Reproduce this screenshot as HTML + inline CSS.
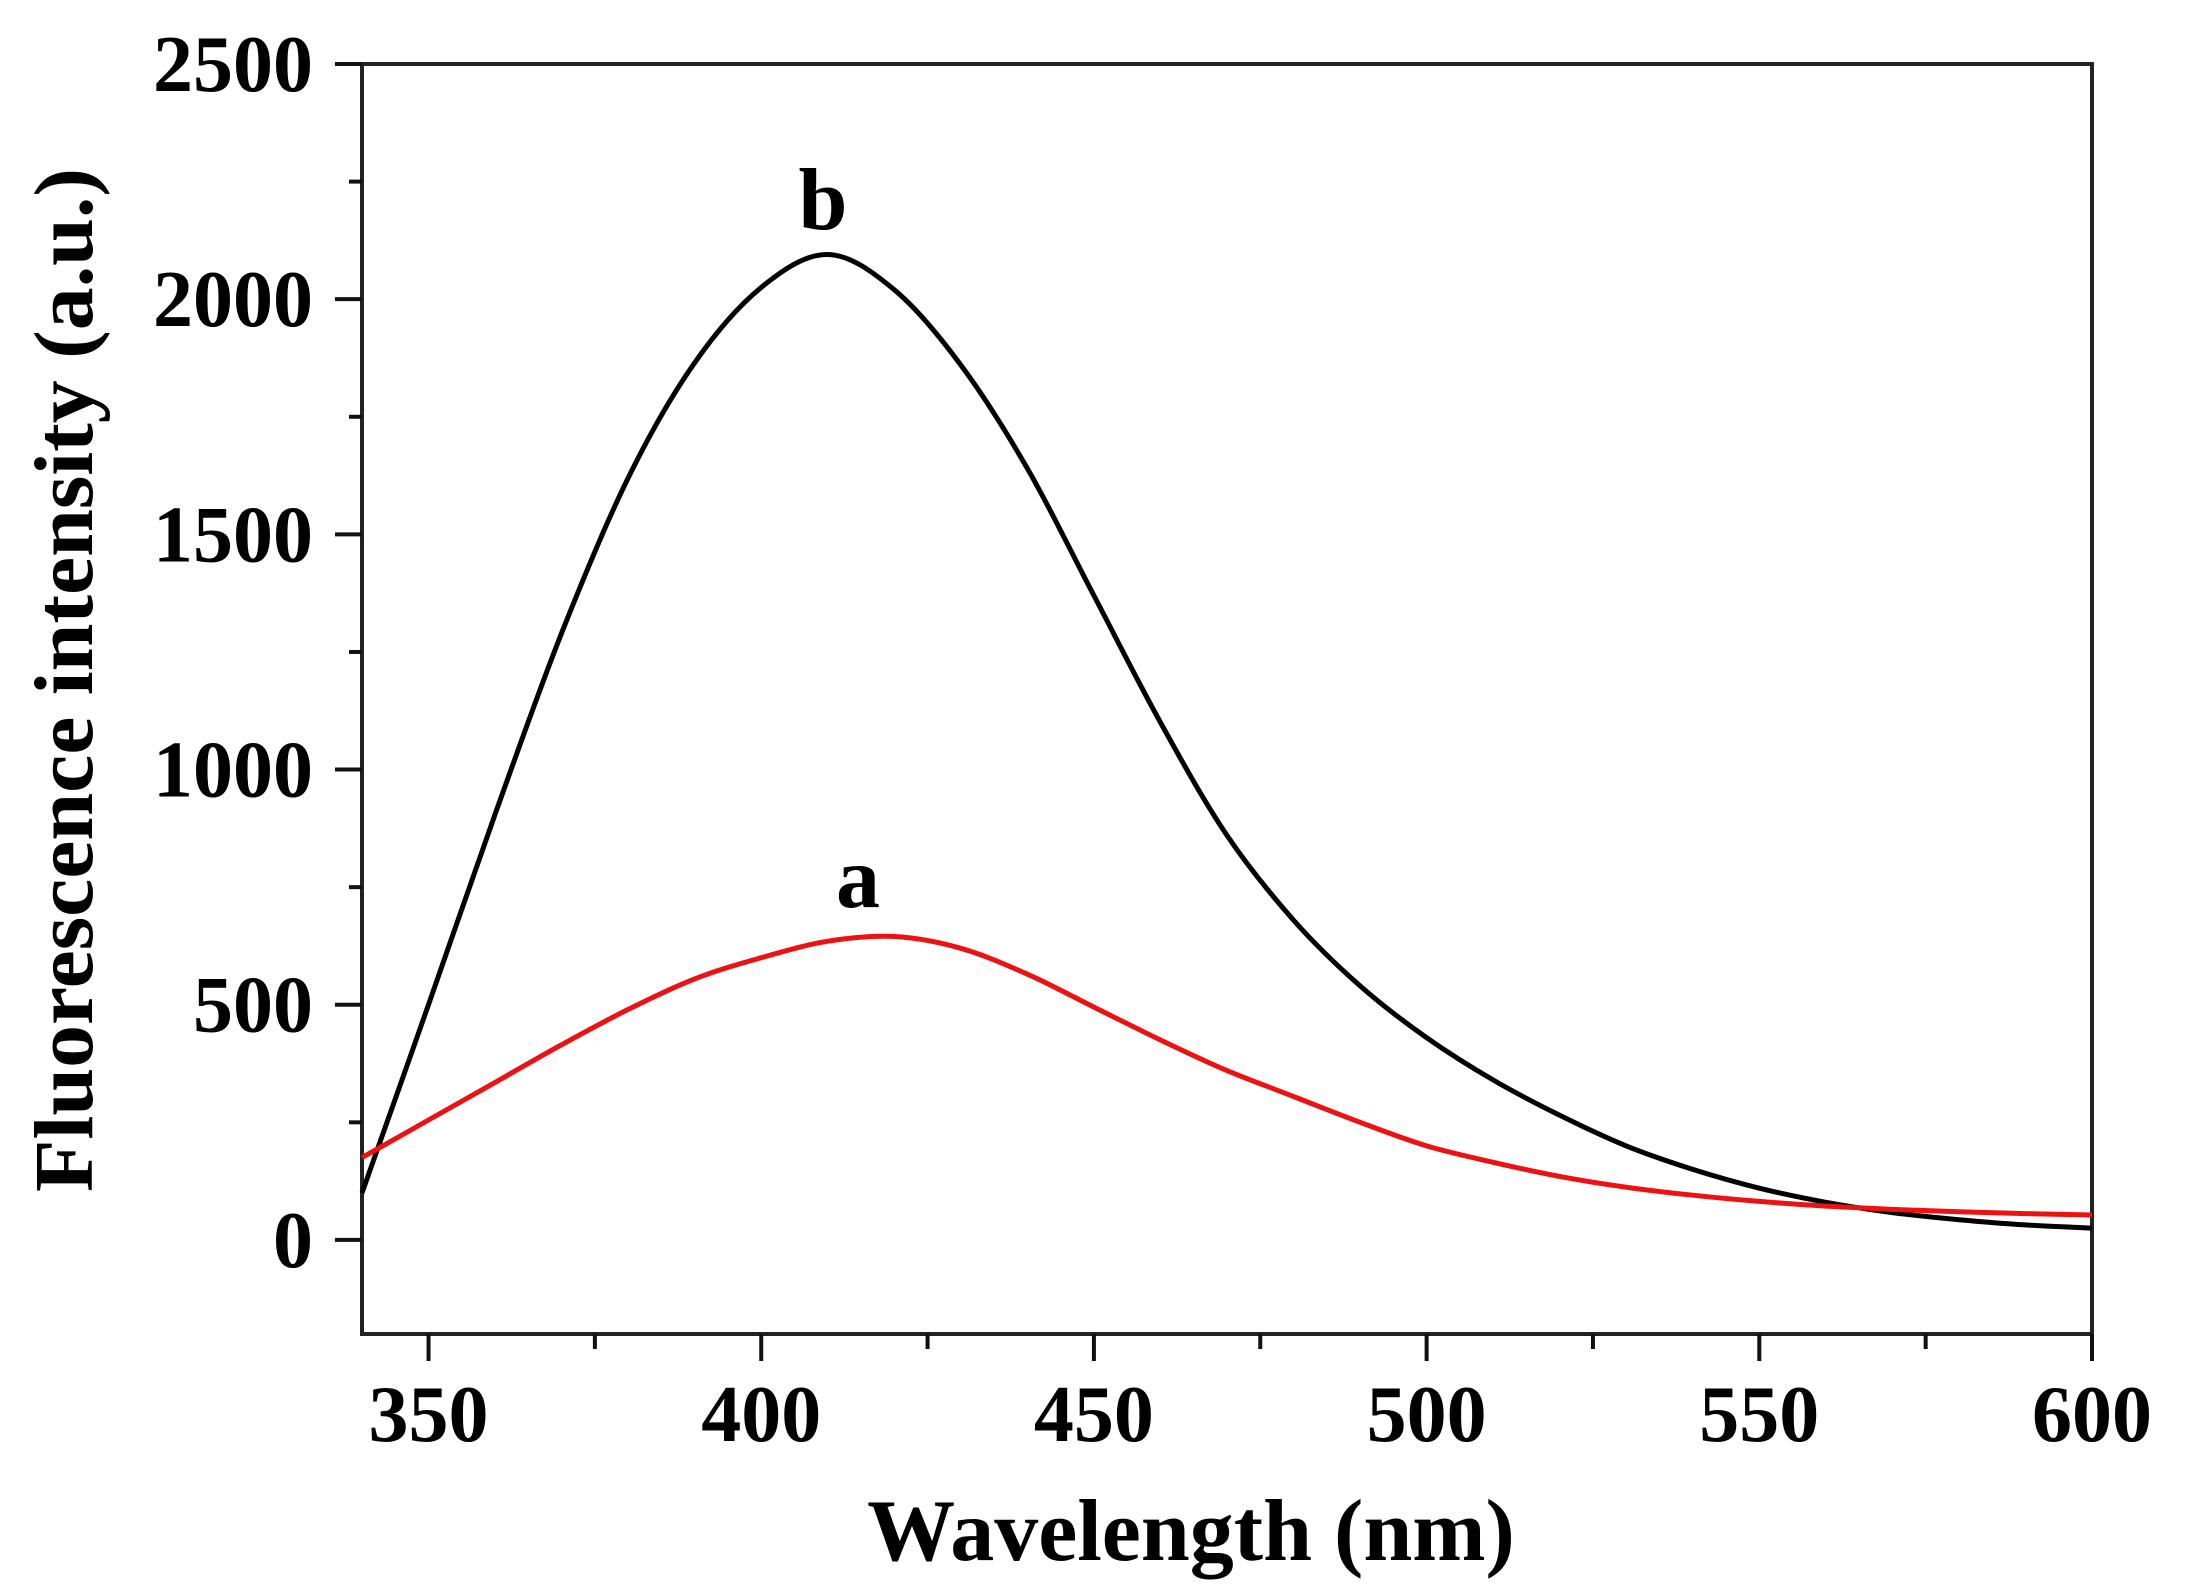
<!DOCTYPE html>
<html><head><meta charset="utf-8"><style>
html,body{margin:0;padding:0;background:#fff;}
svg{display:block;}
text{font-family:"Liberation Serif","Times New Roman",serif;font-weight:bold;fill:#000;}
</style></head><body>
<svg id="chart" width="2194" height="1593" viewBox="0 0 2194 1593" xmlns="http://www.w3.org/2000/svg">
<g id="axes"></g>
<g id="series"></g>
<text x="0" y="0" font-size="84" text-anchor="middle" textLength="1024" lengthAdjust="spacingAndGlyphs" transform="translate(92,680) rotate(-90)">Fluorescence intensity (a.u.)</text>
<text x="1191" y="1560" font-size="88" text-anchor="middle">Wavelength (nm)</text>
<text x="823" y="229" font-size="88" text-anchor="middle">b</text>
<text x="858" y="907" font-size="88" text-anchor="middle">a</text>
</svg>
<script>
const wavelengths = [340,350,360,370,380,390,400,410,420,430,440,450,460,470,480,490,500,510,520,530,540,550,560,570,580,590,600];
const seriesB = [100,500,905,1290,1620,1865,2025,2095,2020,1860,1640,1370,1100,860,680,540,430,340,265,200,150,110,80,58,43,32,25];
const seriesA = [175,255,335,415,490,555,600,635,645,620,565,495,425,360,305,250,200,165,135,112,95,82,72,65,60,56,53];
const xTicks = [350,400,450,500,550,600];
const yTicks = [0,500,1000,1500,2000,2500];

const NS = "http://www.w3.org/2000/svg";
const X0=362, X1=2092, Y0=1334, Y1=64;
const xMin=340, xMax=600, yMin=-200, yMax=2500;
function xs(v){return X0+(v-xMin)/(xMax-xMin)*(X1-X0);}
function ys(v){return Y0-(v-yMin)/(yMax-yMin)*(Y0-Y1);}
function mk(tag, attrs, parent){const e=document.createElementNS(NS,tag);for(const k in attrs)e.setAttribute(k,attrs[k]);parent.appendChild(e);return e;}

const axes=document.getElementById('axes');
const frame=mk('rect',{x:X0,y:Y1,width:X1-X0,height:Y0-Y1,fill:'none',stroke:'#222','stroke-width':4},axes);



for(let v=0; v<=2500; v+=250){
  const major = v%500===0;
  const t=mk('line',{x1:X0-(major?27:13),x2:X0,y1:ys(v),y2:ys(v),stroke:'#111','stroke-width':4},axes);
  
  
}
yTicks.forEach(v=>{
  const t=mk('text',{x:313,y:ys(v)+27,'font-size':80,'text-anchor':'end'},axes);
  t.textContent=String(v);
  
  
});
for(let v=350; v<=600; v+=25){
  const major = v%50===0;
  const t=mk('line',{x1:xs(v),x2:xs(v),y1:Y0,y2:Y0+(major?27:15),stroke:'#111','stroke-width':4},axes);
  
  
}
xTicks.forEach(v=>{
  const t=mk('text',{x:xs(v),y:1441,'font-size':80,'text-anchor':'middle'},axes);
  t.textContent=String(v);
  
  
});

function smoothPath(xv, yv){
  const p=xv.map((x,i)=>[xs(x),ys(yv[i])]);
  let d='M'+p[0][0].toFixed(1)+','+p[0][1].toFixed(1);
  for(let i=0;i<p.length-1;i++){
    const p0=p[Math.max(0,i-1)],p1=p[i],p2=p[i+1],p3=p[Math.min(p.length-1,i+2)];
    const c1x=p1[0]+(p2[0]-p0[0])/6,c1y=p1[1]+(p2[1]-p0[1])/6;
    const c2x=p2[0]-(p3[0]-p1[0])/6,c2y=p2[1]-(p3[1]-p1[1])/6;
    d+=' C'+c1x.toFixed(1)+','+c1y.toFixed(1)+' '+c2x.toFixed(1)+','+c2y.toFixed(1)+' '+p2[0].toFixed(1)+','+p2[1].toFixed(1);
  }
  return d;
}
const sg=document.getElementById('series');
const lb=mk('path',{d:smoothPath(wavelengths,seriesB),fill:'none',stroke:'#000','stroke-width':5},sg);


const la=mk('path',{d:smoothPath(wavelengths,seriesA),fill:'none',stroke:'#ee1111','stroke-width':5},sg);


</script>
</body></html>
